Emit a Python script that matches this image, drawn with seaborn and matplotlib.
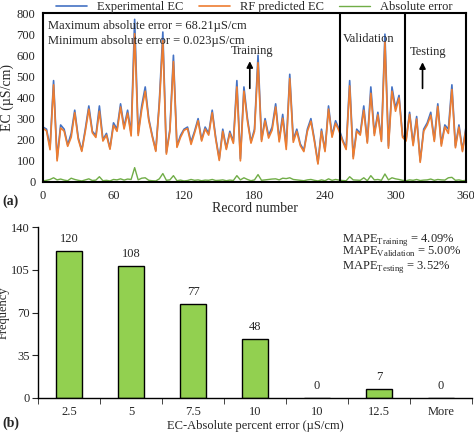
import numpy as np
import pandas as pd
import matplotlib
matplotlib.use('Agg')
import matplotlib.pyplot as plt
import seaborn as sns

# Panel (a): EC time series, read every 3 records
record = list(range(0, 361, 3))
experimental_ec = [260, 250, 165, 480, 110, 270, 250, 175, 230, 340, 210, 150, 250, 360, 240, 220,
                   360, 200, 230, 160, 280, 250, 370, 260, 340, 230, 770, 230, 360, 450, 300, 220,
                   150, 380, 710, 140, 250, 600, 170, 220, 250, 260, 190, 240, 300, 200, 260, 230,
                   340, 210, 110, 250, 160, 240, 190, 480, 110, 450, 300, 190, 250, 600, 200, 300,
                   220, 260, 370, 200, 320, 170, 510, 200, 250, 180, 150, 250, 300, 200, 90, 250,
                   150, 360, 220, 290, 250, 200, 160, 480, 120, 250, 230, 360, 190, 450, 230, 330,
                   200, 700, 170, 450, 350, 410, 220, 200, 330, 180, 310, 100, 250, 280, 330, 200,
                   370, 180, 270, 250, 460, 170, 270, 150, 260]
abs_error = [5, 8, 12, 20, 10, 14, 9, 6, 18, 12, 8, 5, 10, 15, 7, 9,
             25, 6, 8, 5, 12, 10, 15, 9, 14, 12, 68, 10, 18, 20, 8, 6,
             5, 15, 40, 8, 10, 30, 6, 9, 5, 7, 12, 8, 10, 6, 9, 8,
             12, 7, 8, 10, 6, 9, 7, 30, 10, 20, 12, 6, 10, 35, 8, 10,
             12, 14, 15, 10, 18, 16, 20, 12, 10, 8, 6, 10, 12, 8, 5, 10,
             6, 15, 8, 12, 9, 7, 6, 25, 10, 9, 8, 20, 6, 30, 10, 12,
             8, 38, 10, 20, 15, 12, 8, 6, 10, 8, 12, 7, 9, 10, 14, 8,
             12, 10, 9, 20, 22, 8, 10, 6, 8]
rf_predicted_ec = list(np.array(experimental_ec) - np.array(abs_error))

# Panel (b): histogram of absolute percent error
bins = ['2.5', '5', '7.5', '10', '10', '12.5', 'More']
frequency = [120, 108, 77, 48, 0, 7, 0]

sns.set_style('white')
plt.rcParams['font.family'] = ['Liberation Serif', 'DejaVu Serif']
plt.rcParams['font.size'] = 9
plt.rcParams['mathtext.fontset'] = 'custom'
plt.rcParams['mathtext.rm'] = 'Liberation Serif'

fig = plt.figure(figsize=(4.74, 4.32), dpi=100)
ax1 = fig.add_axes([43 / 474, 1 - 182 / 432, 423 / 474, 169 / 432])
ax2 = fig.add_axes([38 / 474, 1 - 398 / 432, 434 / 474, 171 / 432])

df = pd.DataFrame({'record': record, 'exp': experimental_ec, 'rf': rf_predicted_ec, 'err': abs_error})
sns.lineplot(data=df, x='record', y='exp', ax=ax1, color='#4472C4', lw=1.2, label='Experimental EC')
sns.lineplot(data=df, x='record', y='rf', ax=ax1, color='#ED7D31', lw=1.2, label='RF predicted EC')
sns.lineplot(data=df, x='record', y='err', ax=ax1, color='#70AD47', lw=1.0, label='Absolute error')
ax1.set_xlim(0, 360)
ax1.set_ylim(0, 800)
ax1.set_xticks(range(0, 361, 60))
ax1.set_yticks(range(0, 801, 100))
ax1.set_xlabel('Record number', labelpad=0, fontsize=10)
ax1.set_ylabel('EC (\u00b5S/cm)', labelpad=2, fontsize=10)
for s in ax1.spines.values():
    s.set_color('black')
    s.set_linewidth(1.5)
for xv in (253, 308):
    ax1.axvline(xv, color='black', lw=1.5)
ax1.tick_params(axis='both', labelsize=9, pad=2)
ax1.legend(loc='lower center', bbox_to_anchor=(0.5, 0.97), ncol=3, frameon=False,
           fontsize=9, handlelength=2.5, columnspacing=1.2, borderaxespad=0)
ax1.text(4, 765, 'Maximum absolute error = 68.21\u00b5S/cm', fontsize=9, va='top')
ax1.text(4, 695, 'Minimum absolute error = 0.023\u00b5S/cm', fontsize=9, va='top')
ax1.text(178, 590, 'Training', fontsize=9, ha='center', va='bottom')
ax1.annotate('', xy=(176, 585), xytext=(176, 430), arrowprops=dict(arrowstyle='-|>', color='black', lw=1.2))
ax1.text(255, 650, 'Validation', fontsize=9, va='bottom')
ax1.text(312, 585, 'Testing', fontsize=9, va='bottom')
ax1.annotate('', xy=(323, 580), xytext=(323, 430), arrowprops=dict(arrowstyle='-|>', color='black', lw=1.2))
fig.text(0.005, 1 - 205 / 432, '(a)', fontsize=10, fontweight='bold')

bdf = pd.DataFrame({'pos': range(len(bins)), 'freq': frequency})
sns.barplot(data=bdf, x='pos', y='freq', ax=ax2, color='#92D050', edgecolor='black',
            linewidth=1, width=0.41, saturation=1)
ax2.set_xticks(range(len(bins)))
ax2.set_xticklabels(bins)
ax2.set_xticks(np.arange(-0.5, len(bins), 1), minor=True)
ax2.tick_params(axis='x', which='major', length=0, labelsize=9, pad=6)
ax2.tick_params(axis='x', which='minor', length=4, direction='out', bottom=True)
ax2.tick_params(axis='y', length=4, direction='out', left=True, labelsize=9, pad=2)
ax2.set_xlim(-0.5, len(bins) - 0.5)
ax2.set_ylim(0, 140)
ax2.set_yticks(range(0, 141, 35))
ax2.set_xlabel('EC-Absolute percent error (\u00b5S/cm)', labelpad=1)
ax2.set_ylabel('Frequency', labelpad=1)
sns.despine(ax=ax2)
for s in ('left', 'bottom'):
    ax2.spines[s].set_color('black')
    ax2.spines[s].set_linewidth(1)
for i, f in enumerate(frequency):
    ax2.text(i, f + 5, str(f), ha='center', va='bottom', fontsize=9)
ax2.text(4.4, 136, 'MAPE$_{\\mathrm{Training}}$ = 4.09%', fontsize=9, va='top')
ax2.text(4.4, 125, 'MAPE$_{\\mathrm{Validation}}$ = 5.00%', fontsize=9, va='top')
ax2.text(4.4, 114, 'MAPE$_{\\mathrm{Testing}}$ = 3.52%', fontsize=9, va='top')
fig.text(0.005, 1 - 427 / 432, '(b)', fontsize=10, fontweight='bold')

fig.savefig('out.png', dpi=100)
